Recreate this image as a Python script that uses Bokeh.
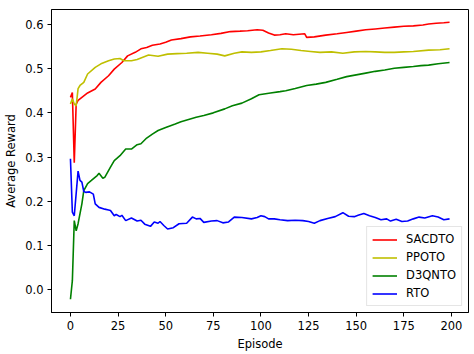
from bokeh.plotting import figure
from bokeh.models import Range1d, FixedTicker, PrintfTickFormatter, Legend, LegendItem
from bokeh.embed import file_html
from bokeh.resources import INLINE

sacdto_ep = [0, 1, 2, 3, 4, 6, 9, 13, 16, 20, 23, 27, 30, 34, 37, 40, 43, 47, 50, 53, 58, 63, 68, 74, 79, 84, 89, 93, 98, 101, 104, 107, 110, 113, 117, 120, 123, 124, 128, 134, 140, 145, 150, 155, 160, 165, 170, 175, 180, 185, 188, 192, 196, 199]
sacdto_val = [0.435, 0.446, 0.287, 0.42, 0.428, 0.435, 0.445, 0.454, 0.469, 0.484, 0.499, 0.514, 0.529, 0.537, 0.545, 0.548, 0.553, 0.556, 0.560, 0.565, 0.568, 0.572, 0.574, 0.577, 0.580, 0.584, 0.585, 0.586, 0.588, 0.587, 0.581, 0.576, 0.577, 0.579, 0.577, 0.578, 0.579, 0.571, 0.572, 0.576, 0.579, 0.582, 0.585, 0.588, 0.590, 0.592, 0.594, 0.596, 0.597, 0.599, 0.601, 0.603, 0.604, 0.605]

ppoto_ep = [0, 1, 2, 3, 4, 5, 7, 9, 13, 16, 20, 23, 26, 28, 32, 35, 38, 41, 46, 51, 56, 61, 67, 72, 77, 81, 86, 90, 95, 100, 105, 111, 116, 121, 126, 131, 137, 143, 149, 155, 160, 165, 170, 175, 180, 188, 194, 199]
ppoto_val = [0.42, 0.432, 0.42, 0.416, 0.455, 0.462, 0.469, 0.488, 0.503, 0.511, 0.518, 0.522, 0.523, 0.518, 0.518, 0.521, 0.526, 0.531, 0.528, 0.533, 0.534, 0.535, 0.537, 0.535, 0.533, 0.529, 0.535, 0.538, 0.537, 0.538, 0.541, 0.545, 0.544, 0.541, 0.539, 0.537, 0.538, 0.535, 0.538, 0.539, 0.538, 0.537, 0.537, 0.538, 0.539, 0.542, 0.543, 0.545]

d3qnto_ep = [0, 1, 2, 3, 4, 6, 7, 9, 11, 14, 15, 17, 18, 21, 23, 26, 29, 32, 35, 37, 40, 43, 46, 50, 55, 58, 62, 66, 70, 75, 81, 85, 90, 95, 99, 105, 110, 113, 118, 124, 129, 134, 140, 145, 150, 155, 160, 165, 170, 175, 180, 184, 188, 193, 199]
d3qnto_val = [-0.022, 0.02, 0.156, 0.133, 0.149, 0.194, 0.224, 0.24, 0.247, 0.258, 0.263, 0.252, 0.254, 0.277, 0.292, 0.303, 0.318, 0.318, 0.328, 0.33, 0.343, 0.352, 0.36, 0.367, 0.375, 0.38, 0.385, 0.39, 0.394, 0.4, 0.409, 0.416, 0.422, 0.432, 0.441, 0.445, 0.448, 0.45, 0.455, 0.462, 0.465, 0.469, 0.476, 0.482, 0.486, 0.49, 0.494, 0.497, 0.501, 0.503, 0.505, 0.507, 0.508, 0.511, 0.514]

rto_ep = [0, 1, 2, 4, 5, 6, 7, 8, 10, 12, 13, 15, 18, 20, 21, 23, 24, 26, 27, 29, 32, 35, 37, 39, 42, 44, 46, 47, 49, 51, 54, 57, 61, 64, 66, 68, 70, 74, 77, 80, 83, 86, 90, 95, 98, 100, 102, 104, 107, 110, 114, 118, 122, 125, 128, 131, 135, 139, 143, 146, 149, 151, 154, 157, 160, 163, 166, 168, 171, 174, 177, 180, 183, 186, 190, 193, 196, 199]
rto_val = [0.296, 0.175, 0.167, 0.268, 0.247, 0.243, 0.222, 0.22, 0.221, 0.216, 0.194, 0.186, 0.182, 0.18, 0.179, 0.167, 0.170, 0.165, 0.168, 0.156, 0.162, 0.155, 0.157, 0.148, 0.143, 0.153, 0.150, 0.154, 0.145, 0.137, 0.140, 0.149, 0.150, 0.164, 0.160, 0.161, 0.152, 0.155, 0.156, 0.151, 0.153, 0.164, 0.163, 0.160, 0.163, 0.167, 0.165, 0.160, 0.160, 0.158, 0.156, 0.157, 0.156, 0.154, 0.150, 0.156, 0.161, 0.165, 0.174, 0.166, 0.165, 0.168, 0.172, 0.167, 0.163, 0.158, 0.160, 0.155, 0.159, 0.154, 0.155, 0.160, 0.164, 0.162, 0.167, 0.164, 0.158, 0.160]

series_names = ["SACDTO", "PPOTO", "D3QNTO", "RTO"]
series_colors = ["#ff0000", "#bfbf00", "#008000", "#0000ff"]
x_ticks = [0, 25, 50, 75, 100, 125, 150, 175, 200]
y_ticks = [0.0, 0.1, 0.2, 0.3, 0.4, 0.5, 0.6]

FONT = "DejaVu Sans"
FS = "11.5px"

p = figure(width=474, height=354, output_backend="svg", toolbar_location=None,
           x_range=Range1d(-9.95, 208.95), y_range=Range1d(-0.052, 0.634),
           min_border_left=51, min_border_right=6, min_border_top=9, min_border_bottom=42)
p.background_fill_color = "white"
p.border_fill_color = "white"
p.outline_line_color = "black"
p.outline_line_width = 1
p.grid.visible = False

for ax in (p.xaxis[0], p.yaxis[0]):
    ax.axis_line_color = "black"
    ax.major_tick_line_color = "black"
    ax.major_tick_out = 4
    ax.major_tick_in = 0
    ax.minor_tick_line_color = None
    ax.major_label_text_font = FONT
    ax.major_label_text_font_size = FS
    ax.major_label_text_color = "black"
    ax.axis_label_text_font = FONT
    ax.axis_label_text_font_size = FS
    ax.axis_label_text_font_style = "normal"
    ax.axis_label_text_color = "black"
    ax.major_label_standoff = 4
    ax.axis_label_standoff = 4

p.xaxis.ticker = FixedTicker(ticks=x_ticks)
p.yaxis.ticker = FixedTicker(ticks=y_ticks)
p.xaxis.formatter = PrintfTickFormatter(format="%d")
p.yaxis.formatter = PrintfTickFormatter(format="%.1f")
p.xaxis.axis_label = "Episode"
p.yaxis.axis_label = "Average Reward"

data = [(sacdto_ep, sacdto_val), (ppoto_ep, ppoto_val), (d3qnto_ep, d3qnto_val), (rto_ep, rto_val)]
items = []
for (xs, ys), name, col in zip(data, series_names, series_colors):
    r = p.line(xs, ys, line_color=col, line_width=1.6)
    items.append(LegendItem(label=name, renderers=[r]))

legend = Legend(items=items, location="bottom_right")
legend.label_text_font = FONT
legend.label_text_font_size = FS
legend.label_text_color = "black"
legend.glyph_width = 25
legend.glyph_height = 13
legend.label_height = 13
legend.label_standoff = 9
legend.spacing = 4
legend.padding = 5
legend.margin = 6
legend.border_line_color = "#cccccc"
legend.border_line_width = 1
legend.background_fill_color = "white"
legend.background_fill_alpha = 0.8
p.add_layout(legend, "center")

open("out.html", "w").write(file_html(p, INLINE))
